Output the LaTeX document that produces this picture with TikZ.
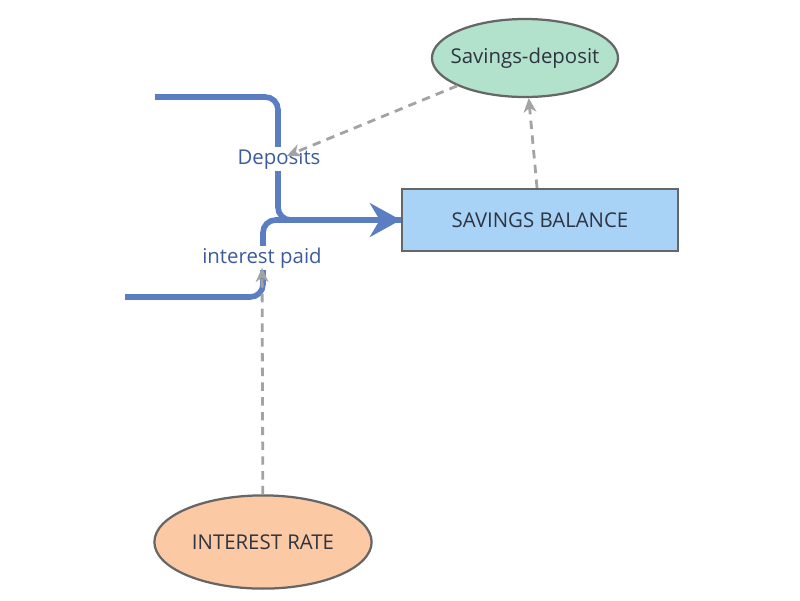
\documentclass[tikz,border=0pt]{standalone}
\usepackage{fontspec}
\setmainfont{Open Sans}
\usetikzlibrary{arrows.meta,shapes.geometric}
\definecolor{flowblue}{HTML}{5B7EC2}
\definecolor{labelblue}{HTML}{3D5C9C}
\definecolor{linkgray}{HTML}{A3A3A3}
\definecolor{edgegray}{HTML}{666666}
\definecolor{stockblue}{HTML}{A8D3F6}
\definecolor{auxgreen}{HTML}{B2E2CC}
\definecolor{constpeach}{HTML}{FCC9A5}
\definecolor{inktext}{HTML}{2E3440}

\begin{document}
\begin{tikzpicture}[x=0.025cm,y=-0.025cm,
    every node/.style={font=\fontsize{14.5}{16}\selectfont,text=inktext},
    stockbox/.style={draw=edgegray,line width=1.6pt,fill=stockblue,minimum width=6.9cm,minimum height=1.55cm,inner sep=0pt},
    auxoval/.style={ellipse,draw=edgegray,line width=1.6pt,inner sep=0pt},
    flowline/.style={draw=flowblue,line width=4pt,rounded corners=9pt},
    flowlabel/.style={fill=white,text=labelblue,inner sep=1.5pt},
    infolink/.style={draw=linkgray,line width=2pt,dash pattern=on 6pt off 4.5pt,-{Stealth[length=10pt,width=9pt,inset=3pt]}}]
  \useasboundingbox (0,0) rectangle (800,600);
  % stocks, auxiliaries, constants
  \node[stockbox] (bal) at (540,220) {SAVINGS BALANCE};
  \node[auxoval,fill=auxgreen,minimum width=4.65cm,minimum height=1.95cm,
    label={center:Savings-deposit}] (sd) at (525,58) {};
  \node[auxoval,fill=constpeach,minimum width=5.43cm,minimum height=2.33cm,
    label={center:INTEREST RATE}] (ir) at (263,542) {};
  % flows into the stock
  \coordinate (depin) at (155,97);
  \coordinate (ratein) at (125,297);
  \draw[flowline] (ratein) -- (263,297) -- (263,220) -- (bal.west);
  \draw[flowline,-{Stealth[length=22pt,width=24pt,inset=7pt]}] (depin) -- (278,97) -- (278,220) -- (bal.west);
  \node[flowlabel] (dep) at (279,159) {Deposits};
  \node[flowlabel] (ip) at (262,258) {interest paid};
  % information links
  \draw[infolink,shorten >=6pt] (sd) -- (dep.center);
  \draw[infolink] (bal) -- (sd);
  \draw[infolink,shorten >=7pt] (ir) -- (ip.center);
\end{tikzpicture}
\end{document}
